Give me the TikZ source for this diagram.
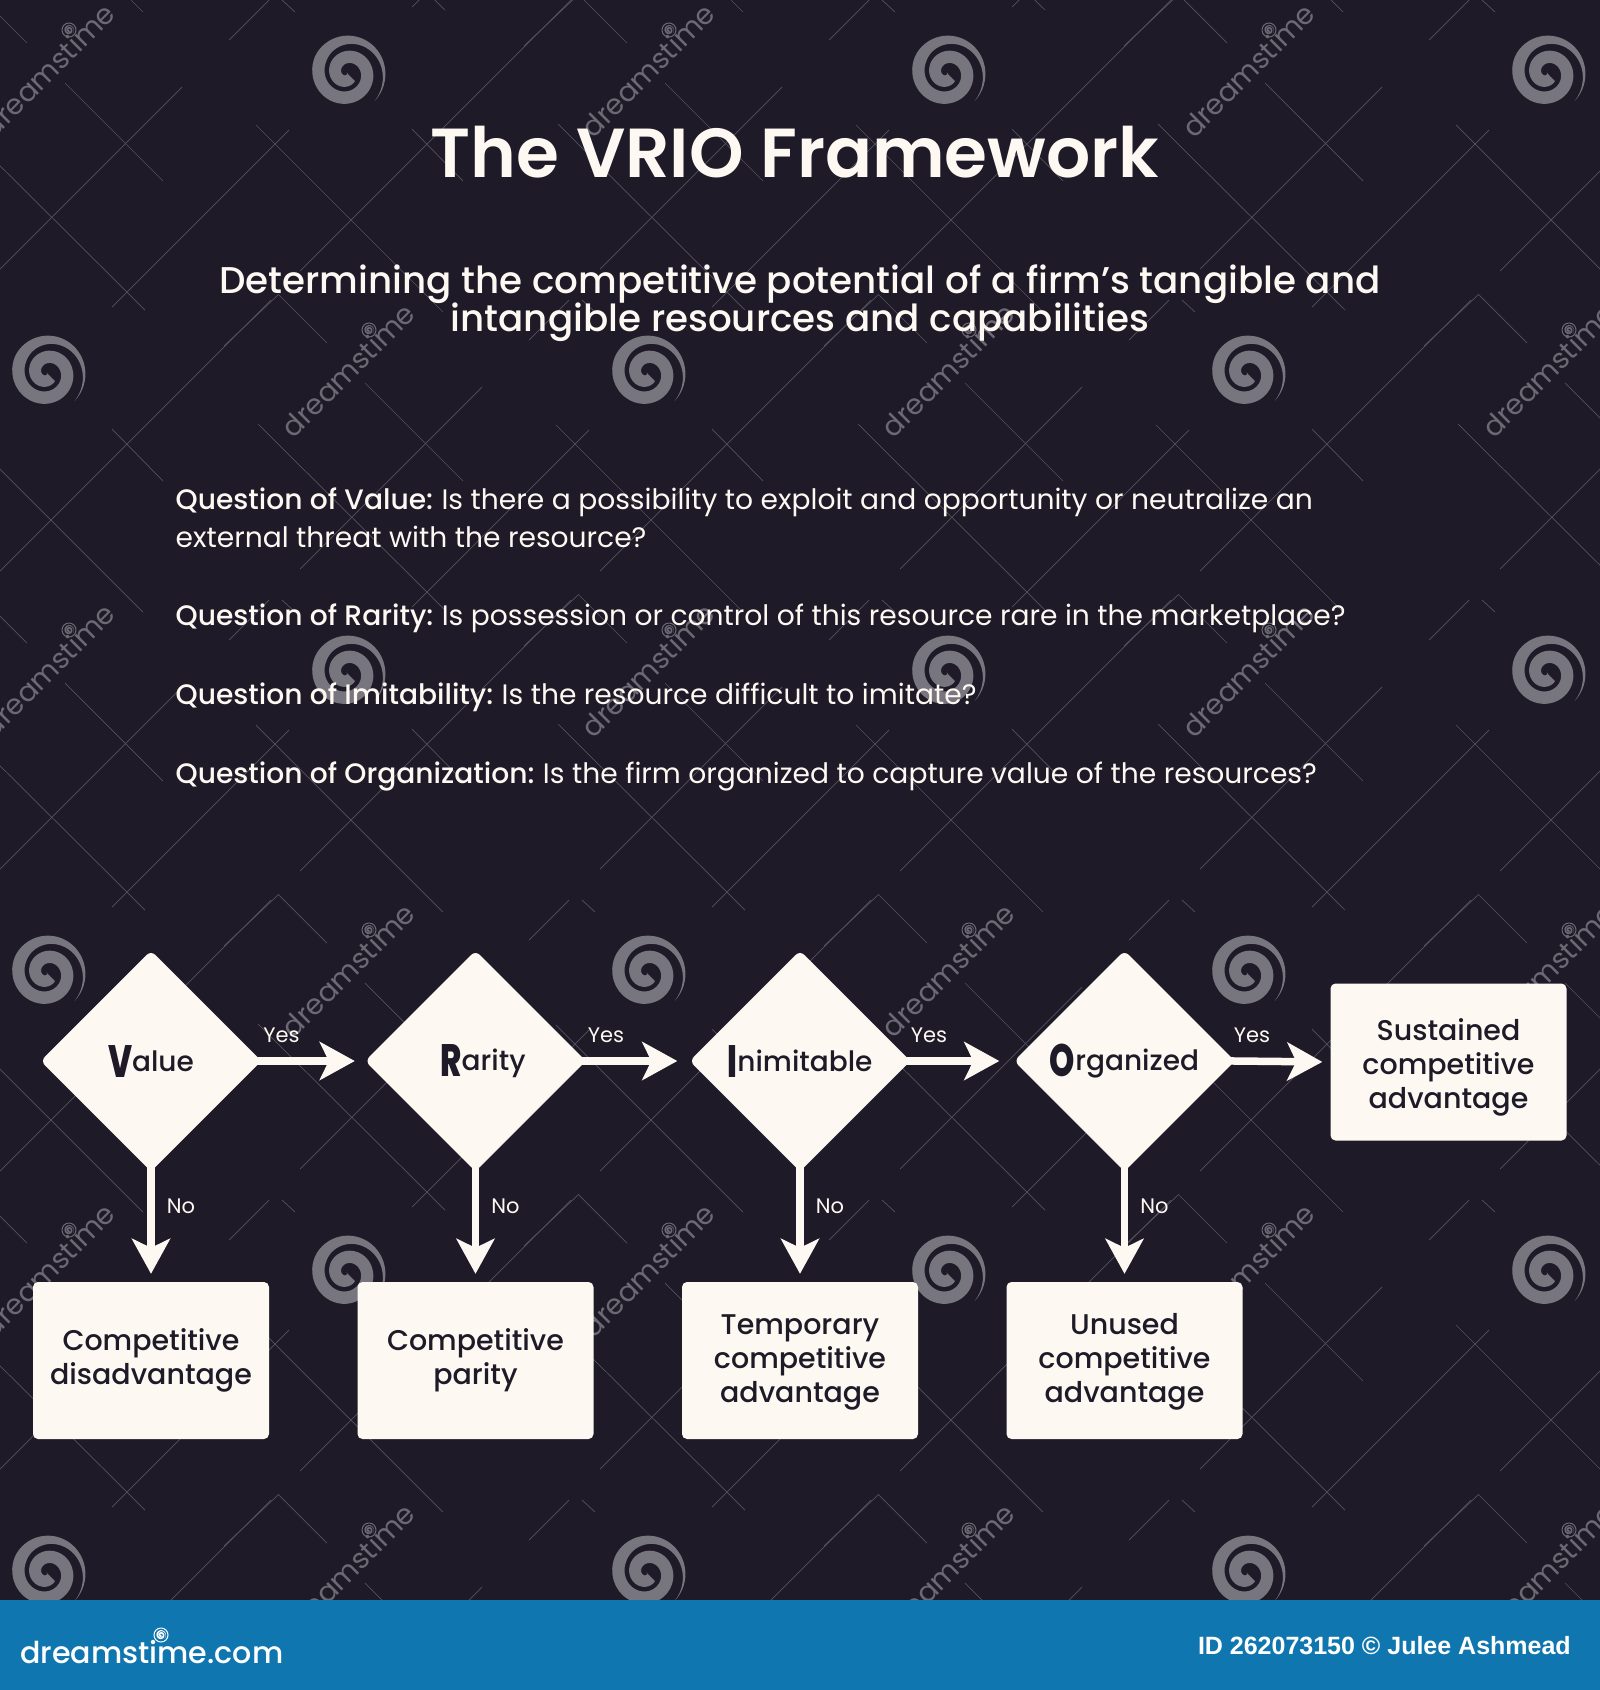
\documentclass[tikz,border=0pt]{standalone}
\usepackage{fontspec}
\usetikzlibrary{shapes.geometric,arrows.meta}
\setmainfont{Poppins}
\newfontfamily\pmed{Poppins Medium}
\newfontfamily\psemi{Poppins SemiBold}
\newfontfamily\idfont{Liberation Sans}
\definecolor{bgc}{HTML}{1E1A28}
\definecolor{cream}{HTML}{FDF9F2}
\definecolor{wmgray}{HTML}{77757E}
\definecolor{wmtext}{HTML}{6B6973}
\definecolor{wmline}{HTML}{55535E}
\definecolor{footc}{HTML}{0F76AF}
\newcommand\fsz[1]{\fontsize{#1}{#1}\selectfont}
\newcommand\capl[1]{\raisebox{-6pt}{\scalebox{1.15}[1.62]{\bfseries #1}}}
\newcommand\qlab[1]{{\pmed #1}\hspace{-1.5pt}}
\newcommand\vspiral[4]{%
  \fill[#4,shift={(#1,#2)},xscale=#3*1.03,yscale=#3*1.04]
    plot[domain=0:1,samples=110] ({(5+33*\x+min(6,(1-\x)*22))*cos(720*\x-675)},{(5+33*\x+min(6,(1-\x)*22))*sin(720*\x-675)})
    -- plot[domain=1:0,samples=110] ({(5+33*\x-min(6,(1-\x)*22))*cos(720*\x-675)},{(5+33*\x-min(6,(1-\x)*22))*sin(720*\x-675)}) -- cycle;}
\tikzset{
  decision/.style={shape=diamond,aspect=1,fill=cream,text=bgc,inner sep=0pt,minimum width=221pt,minimum height=221pt,rounded corners=6pt,font=\pmed\fsz{28}},
  outcome/.style={shape=rectangle,fill=cream,text=bgc,inner sep=0pt,minimum width=236pt,minimum height=157pt,rounded corners=5pt,align=center,font=\pmed\fontsize{28.5}{34}\selectfont},
  flow/.style={draw=cream,line width=7.5pt,shorten <=-5pt,shorten >=8pt,-{Stealth[length=35pt,width=38pt,inset=9pt]}},
  lab/.style={text=cream,inner sep=0pt,font=\fsz{21}},
  qline/.style={anchor=base west,text=cream,inner sep=0pt,font=\fsz{28.13}},
  subline/.style={anchor=base,text=cream,inner sep=0pt,font=\pmed\fsz{37.25}},
  wmark/.style={draw=wmline,line width=0.7pt},
}
\begin{document}
\begin{tikzpicture}[x=1pt,y=-1pt]
\useasboundingbox (0,0) rectangle (1600,1690);
\fill[bgc] (0,0) rectangle (1600,1690);
% watermark layer
\begin{scope}
\clip (0,0) rectangle (1600,1600);
\foreach \j in {-1,...,6}{\foreach \i in {-1,...,2}{
  \pgfmathsetmacro\px{600*\i+300*mod(\j+2,2)}
  \pgfmathsetmacro\py{300*\j}
  \begin{scope}[shift={(\px,\py)}]
    \draw[wmark] (0,269)--(182,87) (229,40)--(269,0);
    \draw[wmark] (224,346)--(278,295) (300,271)--(571,0);
    \draw[wmark] (112,307)--(289,130);
    \draw[wmark] (-22,-6)--(27,43) (65,83)--(163,181);
    \draw[wmark] (256,125)--(443,312);
    \draw[wmark] (-42,124)--(145,310);
    \draw[wmark] (282,0)--(295,12) (412,129)--(463,181);
  \end{scope}
}}
\foreach \j in {0,...,5}{\foreach \i in {-1,...,2}{
  \pgfmathsetmacro\sx{347+600*\i-300*mod(\j,2)}
  \pgfmathsetmacro\sy{73+300*\j}
  \pgfmathsetmacro\tx{648+600*\i-300*mod(\j,2)}
  \pgfmathsetmacro\ty{70+300*\j}
  \vspiral{\sx}{\sy}{1}{wmgray}
  \node[rotate=45,text=wmtext,inner sep=0pt] (wm\i x\j) at (\tx,\ty) {\resizebox{174pt}{!}{dreamstime}};
  \begin{scope}[shift={(\tx,\ty)}]
    \draw[wmtext,line width=1pt] (21,-40) circle (7);
    \vspiral{21}{-40}{0.13}{wmtext}
  \end{scope}
}}
\end{scope}
% title and questions
\node[anchor=base,text=cream,inner sep=0pt,font=\psemi\fsz{69.4}] (title) at (795,177.5) {The VRIO Framework};
\node[subline] (sub1) at (800,293) {Determining the competitive potential of a firm’s tangible and};
\node[subline] (sub2) at (800,331) {intangible resources and capabilities};
\node[qline] (q1a) at (175.5,509.5) {\qlab{Question of Value:} Is there a possibility to exploit and opportunity or neutralize an};
\node[qline] (q1b) at (175.5,547.5) {external threat with the resource?};
\node[qline] (q2) at (175.5,625.5) {\qlab{Question of Rarity:} Is possession or control of this resource rare in the marketplace?};
\node[qline] (q3) at (175.5,704.5) {\qlab{Question of Imitability:} Is the resource difficult to imitate?};
\node[qline] (q4) at (175.5,783.5) {\qlab{Question of Organization:} Is the firm organized to capture value of the resources?};
% decisions
\node[decision] (d1) at (151,1061) {\capl{V}alue};
\node[decision] (d2) at (475.5,1061) {\hspace*{15pt}\capl{R}arity};
\node[decision] (d3) at (800,1061) {\capl{I}nimitable};
\node[decision] (d4) at (1124.5,1061) {\capl{O}rganized};
% outcomes
\node[outcome] (b1) at (151,1360.5) {Competitive\\disadvantage};
\node[outcome] (b2) at (475.5,1360.5) {Competitive\\parity};
\node[outcome] (b3) at (800,1360.5) {\rule{0pt}{23pt}Temporary\\competitive\\advantage};
\node[outcome] (b4) at (1124.5,1360.5) {\rule{0pt}{23pt}Unused\\competitive\\advantage};
\node[outcome] (b5) at (1448.5,1062) {\rule{0pt}{32pt}Sustained\\competitive\\advantage};
% connectors
\draw[flow,shorten >=10pt] (d1.east) -- (d2.west);
\draw[flow,shorten >=12pt] (d2.east) -- (d3.west);
\draw[flow,shorten >=14.5pt] (d3.east) -- (d4.west);
\draw[flow] (d4.east) -- (b5.west);
\draw[flow] (d1.south) -- (b1.north);
\draw[flow] (d2.south) -- (b2.north);
\draw[flow] (d3.south) -- (b3.north);
\draw[flow] (d4.south) -- (b4.north);
% labels
\node[lab] (y1) at (281.5,1035.5) {Yes};
\node[lab] (y2) at (606,1035.5) {Yes};
\node[lab] (y3) at (929,1035.5) {Yes};
\node[lab] (y4) at (1252,1035.5) {Yes};
\node[lab] (n1) at (181,1206.5) {No};
\node[lab] (n2) at (505.5,1206.5) {No};
\node[lab] (n3) at (830,1206.5) {No};
\node[lab] (n4) at (1154.5,1206.5) {No};
% footer
\fill[footc] (0,1600) rectangle (1600,1690);
\node[anchor=base west,text=white,inner sep=0pt] (logo) at (20,1663) {\resizebox{263pt}{!}{\pmed dreamstime.com}};
\draw[white,line width=1pt] (161,1635) circle (7);
\vspiral{161}{1635}{0.13}{white}
\node[anchor=base east,text=white,inner sep=0pt,font=\idfont\bfseries\fsz{25}] (idt) at (1571,1654) {ID 262073150 © Julee Ashmead};
\end{tikzpicture}
\end{document}
